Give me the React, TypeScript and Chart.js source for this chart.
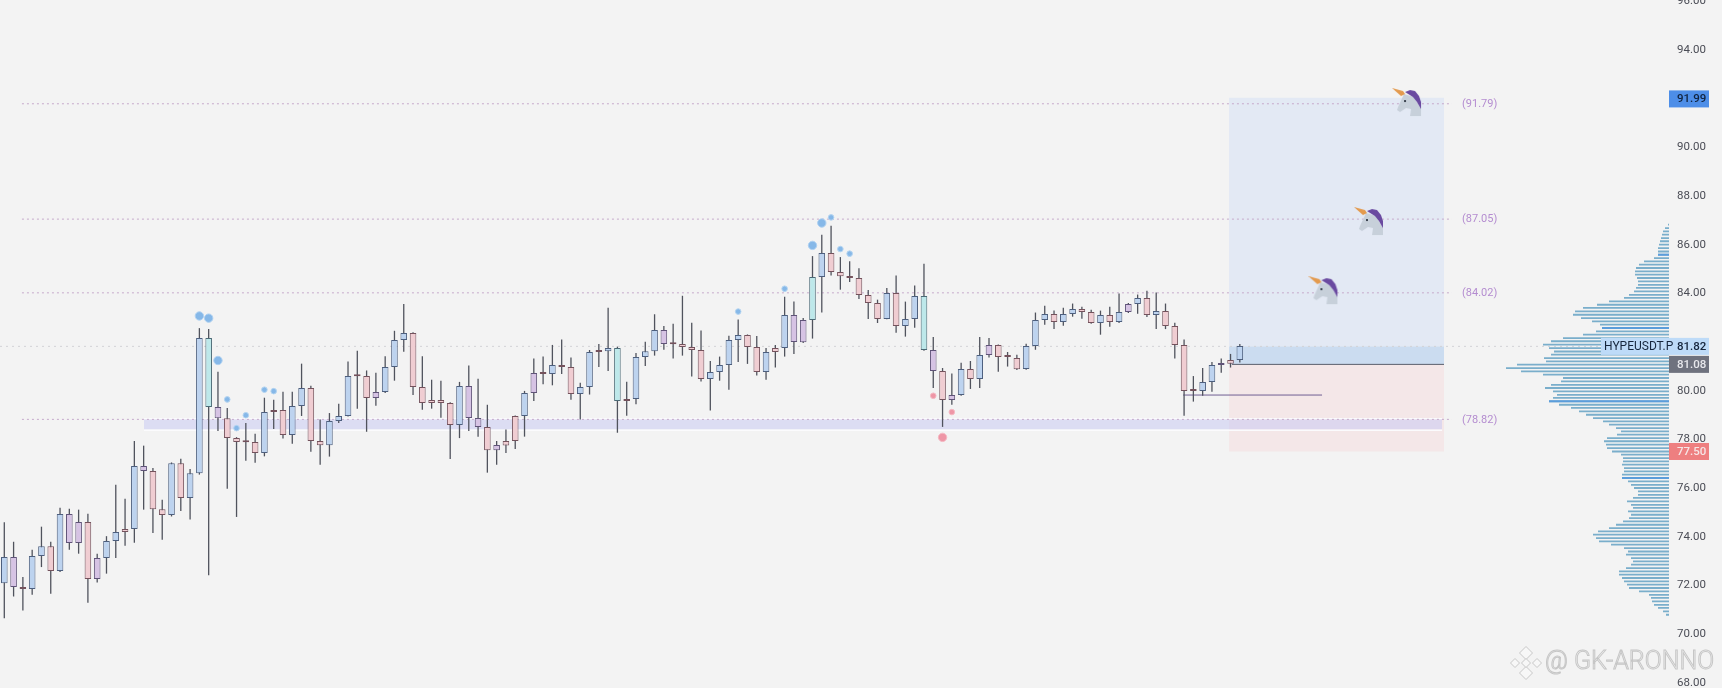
import React, { useEffect, useRef } from 'react';
import { Chart, registerables } from 'chart.js';

Chart.register(...registerables);

const FONT = 'Roboto, sans-serif';

// candles, oldest first
const opens = [72.09,73.16,71.93,71.85,73.20,73.61,72.59,74.93,74.60,74.60,73.12,73.12,73.82,74.31,74.31,76.90,76.70,75.13,74.89,77.02,75.59,76.61,82.16,79.33,78.87,78.05,77.89,77.89,77.44,79.20,79.20,78.18,79.37,80.11,77.93,77.76,78.75,78.96,80.60,80.60,79.94,79.94,80.97,82.08,82.37,80.15,79.62,79.62,79.49,78.59,80.19,78.88,78.51,77.77,77.93,78.96,78.96,80.73,80.73,80.68,81.05,80.97,79.86,80.15,81.63,81.62,81.75,79.66,79.66,81.38,81.62,82.49,81.92,81.92,81.79,81.67,80.48,80.77,81.05,82.08,82.29,81.79,80.77,81.75,81.75,83.11,82.90,82.90,84.67,85.66,84.88,84.71,84.63,83.93,83.60,82.95,84.01,82.66,82.95,83.89,81.67,80.81,79.82,79.82,80.89,80.48,81.88,81.88,81.40,81.34,80.89,81.84,82.90,83.15,82.82,83.15,83.36,83.23,82.78,83.11,82.82,83.56,83.56,83.81,83.11,83.27,82.66,81.88,80.00,79.99,80.36,81.14,81.26,81.26];
const closes = [73.16,71.93,71.85,73.20,73.61,72.59,74.93,73.74,73.74,72.26,72.26,73.82,74.19,74.19,76.90,76.70,75.13,74.89,77.02,75.59,76.61,82.16,79.33,78.87,78.05,77.89,77.88,77.44,79.12,79.12,78.18,79.37,80.11,77.93,77.76,78.75,78.96,80.60,80.59,79.70,79.70,80.97,82.08,82.37,80.15,79.49,79.49,79.49,78.59,80.19,78.88,78.51,77.55,77.55,77.75,77.93,79.90,79.90,80.68,81.05,80.97,79.86,80.15,81.59,81.59,81.75,79.58,79.58,81.38,81.62,82.49,81.92,81.91,81.79,81.67,80.48,80.77,81.05,82.08,82.29,81.79,80.77,81.59,81.59,83.11,82.00,81.99,84.67,85.66,84.88,84.70,84.63,83.93,83.60,82.95,84.01,82.66,82.95,83.89,81.67,80.81,79.62,79.62,80.89,80.48,81.47,81.47,81.38,81.38,80.88,81.84,82.90,83.15,82.82,83.15,83.36,83.23,82.78,83.11,82.82,83.23,83.23,83.81,83.11,83.27,82.66,81.88,79.99,79.99,80.36,81.05,81.05,81.11,81.84];
const highs = [74.59,73.79,72.34,73.46,74.41,73.79,75.19,75.15,75.11,74.94,73.30,74.02,76.13,75.56,77.93,77.74,76.82,75.52,77.05,77.20,76.78,82.57,82.53,80.78,79.29,78.09,78.67,78.23,79.71,79.63,79.96,79.96,81.11,80.20,78.81,79.08,79.46,81.20,81.64,80.83,80.74,81.41,82.46,83.56,82.40,81.41,80.45,80.41,79.52,80.36,81.03,80.49,79.42,77.93,78.40,78.98,79.99,81.32,81.40,81.88,82.10,81.36,80.33,81.67,81.92,83.41,81.81,80.37,81.55,82.01,83.14,82.66,82.75,83.90,82.79,82.47,81.22,81.40,82.26,82.92,82.31,82.25,81.75,81.88,83.86,83.66,82.99,85.53,86.41,86.78,85.49,85.32,85.03,84.14,83.74,84.22,84.73,83.66,84.32,85.22,82.21,80.93,80.70,81.15,81.22,82.21,82.16,81.90,81.59,81.48,81.93,83.21,83.49,83.29,83.41,83.58,83.45,83.33,83.29,83.45,83.99,83.60,83.95,84.11,84.03,83.58,82.79,82.10,80.60,80.93,81.18,81.32,81.51,81.92];
const lows = [70.65,71.54,70.97,71.61,72.75,71.65,72.55,73.46,73.30,71.28,72.12,72.48,73.12,73.63,73.75,75.11,74.15,73.87,74.83,75.05,74.70,76.55,72.41,78.34,75.97,74.81,77.12,77.04,77.30,78.42,78.03,77.82,78.96,77.49,76.96,77.29,78.67,78.94,79.26,78.31,79.38,79.90,80.41,81.60,79.82,79.22,79.26,78.89,77.19,78.05,78.34,78.11,76.63,76.96,77.44,77.60,78.11,79.58,80.26,80.22,80.68,79.63,78.81,79.84,80.97,80.81,78.27,78.97,79.44,81.01,81.44,81.68,81.32,81.44,80.58,80.38,79.18,80.41,80.04,81.18,81.10,80.62,80.45,80.95,81.40,81.51,81.96,82.14,83.21,84.73,84.15,84.47,83.77,82.95,82.78,82.93,82.38,82.22,82.59,81.64,80.11,78.51,79.42,79.79,80.07,80.11,81.36,80.78,80.99,80.85,80.86,81.68,82.71,82.53,82.67,83.04,82.96,82.75,82.30,82.63,82.78,83.19,83.16,83.03,82.53,82.53,81.32,78.97,79.55,79.79,79.96,80.74,80.95,81.16];
// B blue, P pink, V purple, T teal
const candleKinds = 'BVPBBPBVVPVBBPBVPPBPBBTVPPPPBPPBBPPBBBPPVBBBPPPPPBVVPVPPBVPBPPBBPBTPBBBVPPPPBBBBPPBPBVVTBPPPPPPBPBBTVPVBPBVPPPBBBPBBPPBPBVBPBPPPPBBVPB'.split('');

// signal dots: candle index + price
const upBigIdx = [21, 22, 23, 87, 88];
const upBigPrice = [83.07, 82.98, 81.24, 85.97, 86.89];
const upSmallIdx = [24, 25, 26, 28, 29, 79, 84, 89, 90, 91];
const upSmallPrice = [79.64, 78.46, 78.99, 80.04, 79.98, 83.25, 84.19, 87.12, 85.82, 85.63];
const downBigIdx = [101];
const downBigPrice = [78.08];
const downSmallIdx = [100, 102];
const downSmallPrice = [79.79, 79.12];

// price levels
const levelPrices = [91.79, 87.05, 84.02, 78.82];
const levelLabels = ['(91.79)', '(87.05)', '(84.02)', '(78.82)'];
const lastPrice = 81.82;
const entryPrice = 81.08;
const stopPrice = 77.5;
const targetPrice = 92.04;
const targetTag = 91.99;
const supportLine = 79.82;
const bandTop = 78.82;
const bandBottom = 78.4;
const unicornIdx = [151, 146.9, 142];
const unicornPrice = [91.84, 86.95, 84.11];
// 92 and 82 sit behind the price tags
const tickValues = [96, 94, 90, 88, 86, 84, 80, 78, 76, 74, 72, 70, 68];

// volume profile
const vpPrices = [86.82,86.68,86.55,86.41,86.27,86.14,86.00,85.86,85.72,85.59,85.45,85.31,85.18,85.04,84.90,84.77,84.63,84.49,84.35,84.22,84.08,83.94,83.81,83.67,83.53,83.40,83.26,83.12,82.98,82.85,82.71,82.57,82.44,82.30,82.16,82.03,81.89,81.75,81.61,81.48,81.34,81.20,81.07,80.93,80.79,80.66,80.52,80.38,80.24,80.11,79.97,79.83,79.70,79.56,79.42,79.29,79.15,79.01,78.87,78.74,78.60,78.46,78.33,78.19,78.05,77.92,77.78,77.64,77.50,77.37,77.23,77.09,76.96,76.82,76.68,76.55,76.41,76.27,76.13,76.00,75.86,75.72,75.59,75.45,75.31,75.18,75.04,74.90,74.76,74.63,74.49,74.35,74.22,74.08,73.94,73.81,73.67,73.53,73.39,73.26,73.12,72.98,72.85,72.71,72.57,72.44,72.30,72.16,72.03,71.89,71.75,71.61,71.48,71.34,71.20,71.07,70.93,70.79];
const vpVolumes = [1,4,6,7,8,9,10,11,11,11,15,25,30,33,34,34,32,31,31,33,35,40,45,60,72,86,94,96,88,77,69,67,73,86,106,118,126,120,115,118,125,123,152,163,148,126,106,108,118,124,116,112,116,120,110,98,90,83,76,66,60,53,48,52,62,65,63,62,57,48,46,46,47,45,45,47,47,41,38,35,31,31,36,42,38,36,41,38,40,46,53,60,71,76,73,70,58,45,41,43,38,36,38,43,50,50,47,45,42,40,30,20,18,17,15,11,6,3];
const vpStrongPrices = [85.59, 82.57, 79.56, 76.41];
const vpStrongVolumes = [11, 67, 120, 47];

const bodyFill: Record<string, string> = { B: '#bdd3ef', P: '#f0cdd2', V: '#d6c3e4', T: '#bde8ea' };
const bodyEdge: Record<string, string> = { B: '#4d5f7e', P: '#74525c', V: '#5f5378', T: '#4b6a76' };

// x range of the drawing objects, in candle index units
const X_MIN = -0.463;
const X_MAX = 179.2;
const LEVEL_FROM = 1.9;
const LEVEL_TO = 155.84;
const BOX_FROM = 131.84;
const BOX_TO = 154.98;

const hLine = (y: number, from: number, to: number, color: string, dash: number[], order: number, width = 1) => ({
  type: 'line' as const,
  data: [{ x: from, y }, { x: to, y }],
  borderColor: color,
  borderWidth: width,
  borderDash: dash,
  pointRadius: 0,
  order,
});

const zone = (top: number, bottom: number, from: number, to: number, color: string, order: number) => ({
  type: 'line' as const,
  data: [{ x: from, y: top }, { x: to, y: top }],
  borderWidth: 0,
  backgroundColor: color,
  fill: { value: bottom },
  pointRadius: 0,
  order,
});

const dots = (idx: number[], price: number[], fill: string, edge: string, radius: number) => ({
  type: 'scatter' as const,
  data: idx.map((x, i) => ({ x, y: price[i] })),
  backgroundColor: fill,
  borderColor: edge,
  borderWidth: 1,
  pointRadius: radius,
  order: 1,
});

const profile = (prices: number[], volumes: number[], color: string, width: number, order: number) => ({
  type: 'line' as const,
  xAxisID: 'xVol',
  data: prices.flatMap((y, i) => [{ x: 0, y }, { x: volumes[i], y }, { x: NaN, y: NaN }]),
  borderColor: color,
  borderWidth: width,
  pointRadius: 0,
  spanGaps: false,
  order,
});

// the emoji is not in the installed fonts, so it gets painted once
function makeUnicorn() {
  const c = document.createElement('canvas');
  c.width = 30;
  c.height = 29;
  const g = c.getContext('2d')!;
  const poly = (pts: number[][], color: string) => {
    g.fillStyle = color;
    g.beginPath();
    pts.forEach(([x, y], i) => (i ? g.lineTo(x, y) : g.moveTo(x, y)));
    g.closePath();
    g.fill();
  };
  poly([[12, 6], [22, 9], [26, 16], [29, 20], [29, 28], [18, 28], [19, 21], [14, 20], [8, 24], [5, 22], [6, 19]], '#c7d0da');
  poly([[13, 4], [18, 2], [23, 3], [27, 8], [29, 14], [29, 21], [25, 14], [21, 9]], '#6a4aa0');
  poly([[0, 0], [11, 3], [13, 6], [9, 8]], '#e39a4e');
  poly([[12, 12], [14, 12], [14, 14], [12, 14]], '#3c4450');
  return c;
}

const overlayPlugin = {
  id: 'overlay',
  afterDraw(chart: any) {
    const { ctx, scales } = chart;
    const y = scales.y;
    ctx.save();
    ctx.textBaseline = 'middle';

    // level labels
    ctx.font = `11px ${FONT}`;
    ctx.fillStyle = '#b48cd0';
    levelPrices.forEach((p, i) => ctx.fillText(levelLabels[i], 1462, y.getPixelForValue(p) + 0.5));

    // price tags on the axis
    const tag = (price: number, text: string, fill: string, color: string, left = 1669) => {
      const cy = y.getPixelForValue(price);
      ctx.fillStyle = fill;
      ctx.fillRect(left, cy - 8.5, 1709 - left, 17);
      ctx.fillStyle = color;
      ctx.font = `500 11.5px ${FONT}`;
      ctx.fillText(text, 1677, cy + 0.5);
    };
    tag(targetTag, targetTag.toFixed(2), '#4d8ee8', '#10233f');
    tag(lastPrice, lastPrice.toFixed(2), '#bedbf8', '#16263c', 1601);
    ctx.fillStyle = '#16263c';
    ctx.font = `12px ${FONT}`;
    ctx.fillText('HYPEUSDT.P', 1604, y.getPixelForValue(lastPrice) + 0.5);
    tag(entryPrice, entryPrice.toFixed(2), '#6f727e', '#e8e8ec');
    tag(stopPrice, stopPrice.toFixed(2), '#ee7f80', '#f6e6e6');

    // watermark
    ctx.font = `300 25px ${FONT}`;
    ctx.lineWidth = 1;
    ctx.strokeStyle = '#c6c6c6';
    ctx.fillStyle = '#f7f7f7';
    ctx.fillText('@ GK-ARONNO', 1545, 663);
    ctx.strokeText('@ GK-ARONNO', 1545, 663);
    const diamond = (cx: number, cy: number, r: number) => {
      ctx.beginPath();
      ctx.moveTo(cx, cy - r);
      ctx.lineTo(cx + r, cy);
      ctx.lineTo(cx, cy + r);
      ctx.lineTo(cx - r, cy);
      ctx.closePath();
      ctx.fill();
      ctx.stroke();
    };
    [[1526, 653, 6.5], [1526, 673, 6.5], [1515, 663, 4.5], [1537, 663, 4.5], [1526, 663, 4.5]].forEach(([a, b, r]) => diamond(a, b, r));
    ctx.restore();
  },
};

export default function App() {
  const chartRef = useRef<HTMLCanvasElement | null>(null);

  useEffect(() => {
    document.body.style.margin = '0';
    if (!chartRef.current) return;
    const ctx = chartRef.current.getContext('2d');
    if (!ctx) return;

    const unicorn = makeUnicorn();
    const chartInstance = new Chart(ctx, {
      type: 'bar',
      data: {
        datasets: [
          zone(targetPrice, lastPrice, BOX_FROM, BOX_TO, '#e3e9f4', 30),
          zone(lastPrice, entryPrice, BOX_FROM, BOX_TO, '#cbdcf0', 30),
          zone(entryPrice, stopPrice, BOX_FROM, BOX_TO, '#f4e7e8', 30),
          zone(bandTop, bandBottom, 15.04, 154.77, 'rgba(197,199,243,0.5)', 28),
          hLine(bandTop + 0.03, 15.04, 154.77, '#fbfbfd', [], 27, 1.4),
          hLine(bandBottom - 0.03, 15.04, 154.77, '#fbfbfd', [], 27, 1.4),
          hLine(lastPrice, X_MIN, 171.9, '#d2d2d6', [2, 4], 26),
          ...levelPrices.map((p) => hLine(p, LEVEL_FROM, LEVEL_TO, '#c6aacb', [2, 3], 25)),
          hLine(entryPrice, 132.16, BOX_TO, '#5c5f6c', [], 24),
          hLine(supportLine, 126.9, 141.85, '#6f5f92', [], 24),
          {
            type: 'bar',
            data: highs.map((h, i) => ({ x: i, y: [lows[i], h] })),
            backgroundColor: '#50535d',
            maxBarThickness: 1.3,
            grouped: false,
            order: 10,
          },
          {
            type: 'bar',
            data: opens.map((o, i) => ({ x: i, y: [o, closes[i]] })),
            backgroundColor: candleKinds.map((k) => bodyFill[k]),
            borderColor: candleKinds.map((k) => bodyEdge[k]),
            borderWidth: 1,
            borderSkipped: false,
            maxBarThickness: 6.6,
            minBarLength: 2,
            grouped: false,
            order: 9,
          },
          dots(upBigIdx, upBigPrice, '#86b8e8', '#aed0f0', 4.2),
          dots(upSmallIdx, upSmallPrice, '#86b8e8', '#b4d4f0', 2.8),
          dots(downBigIdx, downBigPrice, '#ee96a6', '#f4b8c2', 4.2),
          dots(downSmallIdx, downSmallPrice, '#ee96a6', '#f4b8c2', 2.8),
          profile(vpPrices, vpVolumes, '#7aaecb', 1.8, 6),
          profile(vpStrongPrices, vpStrongVolumes, '#5b9ddb', 2, 5),
          {
            type: 'scatter',
            data: unicornIdx.map((x, i) => ({ x, y: unicornPrice[i] })),
            pointStyle: unicorn,
            pointRadius: 14,
            order: 2,
          },
        ] as any,
      },
      options: {
        responsive: false,
        animation: false,
        events: [],
        layout: { padding: 0, autoPadding: false },
        plugins: { legend: { display: false }, tooltip: { enabled: false } },
        scales: {
          x: { type: 'linear', display: false, min: X_MIN, max: X_MAX, offset: false, grid: { display: false } },
          xVol: { type: 'linear', axis: 'x', display: false, reverse: true, min: 0, max: 1669, offset: false, grid: { display: false } },
          y: {
            position: 'right',
            min: 67.78,
            max: 96.055,
            offset: false,
            grid: { display: false },
            border: { display: false },
            afterFit: (scale: any) => {
              // keep the plot full height, the end labels may clip like in the original
              scale.width = 53;
              scale.paddingTop = 0;
              scale.paddingBottom = 0;
              scale.paddingLeft = 0;
              scale.paddingRight = 0;
            },
            afterBuildTicks: (scale: any) => {
              scale.ticks = tickValues.map((value) => ({ value }));
            },
            ticks: {
              autoSkip: false,
              padding: 0,
              crossAlign: 'near',
              color: '#4a4c55',
              font: { family: FONT, size: 11.5 },
              callback: (v: any) => Number(v).toFixed(2),
            },
          },
        } as any,
      },
      plugins: [overlayPlugin],
    } as any);

    return () => {
      chartInstance.destroy();
    };
  }, []);

  return (
    <div style={{ position: 'fixed', left: 0, top: 0, width: 1722, height: 688, background: '#f3f3f3' }}>
      <canvas ref={chartRef} width={1722} height={688} />
    </div>
  );
}
